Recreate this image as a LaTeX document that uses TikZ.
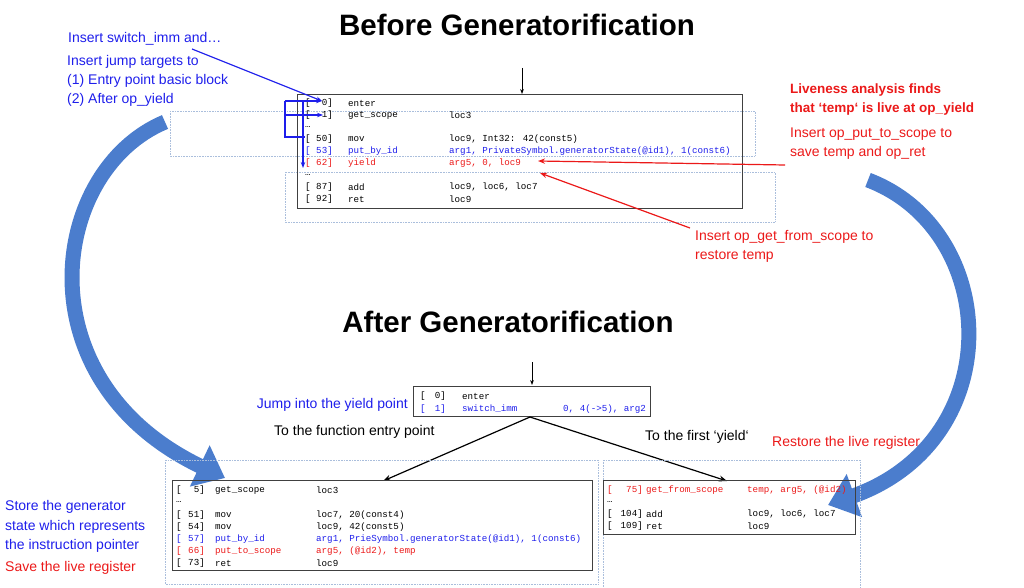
\documentclass[tikz,border=0pt]{standalone}
\usepackage{fontspec}
\setmainfont{Liberation Sans}
\newfontfamily\cmono{Liberation Mono}
\usetikzlibrary{arrows.meta}
\definecolor{cblue}{RGB}{30,30,235}
\definecolor{cred}{RGB}{235,25,25}
\definecolor{big}{RGB}{75,125,205}
\definecolor{lbox}{RGB}{170,190,220}
\newcommand{\bq}{{\char96}}
\tikzset{
 c/.style={anchor=west,inner sep=0,font=\cmono\fontsize{9.2}{10}\selectfont},
 lab/.style={anchor=west,inner sep=0,font=\fontsize{14}{16}\selectfont},
 ttl/.style={inner sep=0,font=\bfseries\fontsize{29.5}{32}\selectfont},
 code/.style={draw=black!75,line width=0.8pt},
 outer/.style={draw=lbox,densely dotted,line width=0.6pt},
 bigarr/.style={big,line width=15pt,-{Triangle[width=44pt,length=28pt]}},
}
\newcommand{\cl}[9]{%
 \node[c,text=#9] at (#2,#1) {[};
 \node[c,text=#9,anchor=east] at (#3,#1) {#4]};
 \node[c,text=#9] at (#5,#1) {#6};
 \node[c,text=#9] at (#7,#1) {#8};}
\begin{document}
\begin{tikzpicture}[x=1pt,y=-1pt]
\useasboundingbox (0,0) rectangle (1024,588);
% big arrows
\draw[bigarr] (165,122) .. controls (50,170) and (20,380) .. (225,478);
\draw[bigarr] (868,180) .. controls (1000,230) and (1010,440) .. (828,505);
% titles
\node[ttl] (t1) at (517,25) {Before Generatorification};
\node[ttl] (t2) at (508,322) {After Generatorification};
% top
\draw[outer] (170,111) rectangle (755,156);
\draw[outer] (285,172) rectangle (775,222);
\draw[code] (297,94) rectangle (742,208);
\coordinate (ta) at (522,68); \coordinate (tb) at (522,94);
\draw[-{Stealth[length=5pt]},line width=1pt] (ta) -- (tb);
\cl{103}{305}{333}{0}{348}{enter}{449}{}{black}
\cl{115}{305}{333}{1}{348}{get\_scope}{449}{loc3}{black}
\node[c] at (305,127) {…};
\cl{139}{305}{333}{50}{348}{mov}{449}{loc9, Int32: 42(const5)}{black}
\cl{151}{305}{333}{53}{348}{put\_by\_id}{449}{arg1, PrivateSymbol.generatorState(@id1), 1(const6)}{cblue}
\cl{163}{305}{333}{62}{348}{yield}{449}{arg5, 0, loc9}{cred}
\node[c] at (305,175) {…};
\cl{187}{305}{333}{87}{348}{add}{449}{loc9, loc6, loc7}{black}
\cl{199}{305}{333}{92}{348}{ret}{449}{loc9}{black}
% blue annotations
\node[lab,text=cblue] (l1) at (68,39) {Insert switch\_imm and…};
\node[lab,text=cblue] (l2) at (67,62) {Insert jump targets to};
\node[lab,text=cblue] (l3) at (67,81) {(1) Entry point basic block};
\node[lab,text=cblue] (l4) at (67,100) {(2) After op\_yield};
\coordinate (b0) at (322,101);
\coordinate (b1) at (323,115);
\draw[cblue,line width=1.2pt,-{Stealth[length=6pt]}] (192,49) -- (b0);
\draw[cblue,line width=1.2pt,-{Stealth[length=6pt]}] (285,101) -- (322,101);
\draw[cblue,line width=1.2pt] (285,101) -- (285,137) -- (305,137);
\draw[cblue,line width=1.2pt,-{Stealth[length=6pt]}] (285,115) -- (b1);
\draw[cblue,line width=1.2pt,-{Stealth[length=6pt]}] (303,101) -- (303,168);
% red annotations
\node[lab,text=cred,font=\bfseries\fontsize{13.5}{16}\selectfont] at (790,90) {Liveness analysis finds};
\node[lab,text=cred,font=\bfseries\fontsize{13.5}{16}\selectfont] at (790,109) {that \bq temp\bq{} is live at op\_yield};
\node[lab,text=cred] at (790,134) {Insert op\_put\_to\_scope to};
\node[lab,text=cred] at (790,153) {save temp and op\_ret};
\node[lab,text=cred] at (695,237) {Insert op\_get\_from\_scope to};
\node[lab,text=cred] at (695,256) {restore temp};
\coordinate (r0) at (538,161);
\coordinate (r1) at (540,173);
\draw[cred,line width=1.2pt,-{Stealth[length=7pt]}] (785,165) -- (r0);
\draw[cred,line width=1.2pt,-{Stealth[length=7pt]}] (690,228) -- (r1);
% after
\coordinate (aa) at (532,362);
\coordinate (ab) at (532,385);
\draw[code] (413,386) rectangle (650,416);
\draw[-{Stealth[length=5pt]},line width=1pt] (aa) -- (ab);
\cl{396}{420}{446}{0}{462}{enter}{563}{}{black}
\cl{409}{420}{446}{1}{462}{switch\_imm}{563}{0, 4(->5), arg2}{cblue}
\node[lab,text=cblue,anchor=east] at (408,405) {Jump into the yield point};
\node[lab] at (274,432) {To the function entry point};
\node[lab] at (645,437) {To the first \bq yield\bq};
\node[lab,text=cred] at (772,443) {Restore the live register};
\coordinate (s) at (530,417);
\coordinate (e1) at (383,481);
\coordinate (e2) at (727,481);
\draw[line width=1.2pt,-{Stealth[length=8pt]}] (s) -- (e1);
\draw[line width=1.2pt,-{Stealth[length=8pt]}] (s) -- (e2);
% bottom left
\draw[outer] (165,460) rectangle (598,584);
\draw[code] (172,480) rectangle (592,570);
\cl{490}{176}{205}{5}{215}{get\_scope}{316}{loc3}{black}
\node[c] at (176,502) {…};
\cl{515}{176}{205}{51}{215}{mov}{316}{loc7, 20(const4)}{black}
\cl{527}{176}{205}{54}{215}{mov}{316}{loc9, 42(const5)}{black}
\cl{539}{176}{205}{57}{215}{put\_by\_id}{316}{arg1, PrieSymbol.generatorState(@id1), 1(const6)}{cblue}
\cl{551}{176}{205}{66}{215}{put\_to\_scope}{316}{arg5, (@id2), temp}{cred}
\cl{563}{176}{205}{73}{215}{ret}{316}{loc9}{black}
% bottom right
\draw[outer] (603,460) rectangle (860,588);
\draw[code] (603,480) rectangle (855,534);
\cl{490}{607}{643}{75}{646}{get\_from\_scope}{747}{temp, arg5, (@id2)}{cred}
\node[c] at (607,502) {…};
\cl{514}{607}{643}{104}{646}{add}{747}{loc9, loc6, loc7}{black}
\cl{526}{607}{643}{109}{646}{ret}{747}{loc9}{black}
% bottom left labels
\node[lab,text=cblue] at (5,507) {Store the generator};
\node[lab,text=cblue] at (5,527) {state which represents};
\node[lab,text=cblue] at (5,546) {the instruction pointer};
\node[lab,text=cred] at (5,568) {Save the live register};
\end{tikzpicture}
\end{document}
